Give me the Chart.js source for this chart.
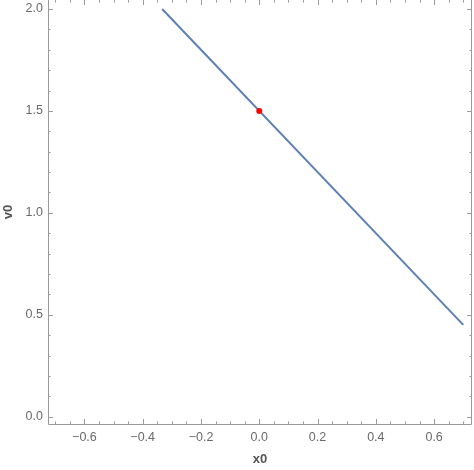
<!DOCTYPE html>
<html>
<head>
<meta charset="utf-8">
<script src="https://cdn.jsdelivr.net/npm/chart.js@4/dist/chart.umd.min.js"></script>
<style>
  html, body { margin: 0; padding: 0; background: #fff; }
  #wrap { width: 474px; height: 470px; }
</style>
</head>
<body>
<div id="wrap"><canvas id="chart"></canvas></div>
<script>
// line v0 vs x0 and the marked point
const lineX = [-0.3333, 0.7];
const lineY = [2.0, 0.45];
const pointX = [0.0];
const pointY = [1.5];

// tick labels
const xTicks = [-0.6, -0.4, -0.2, 0.0, 0.2, 0.4, 0.6];
const yTicks = [0.0, 0.5, 1.0, 1.5, 2.0];

const frameColor = '#9a9a9a';
const labelColor = '#6a6a6a';

const fmt = v => v.toFixed(1).replace('-', '\u2212');

// frame with inward ticks, like a Mathematica plot
const framePlugin = {
    id: 'frame',
    afterDatasetsDraw(chart) {
        const { ctx, chartArea: a, scales } = chart;
        const xs = scales.x, ys = scales.y;
        ctx.save();
        ctx.strokeStyle = frameColor;
        ctx.lineWidth = 1;
        ctx.beginPath();
        ctx.moveTo(a.left + 0.5, a.top);
        ctx.lineTo(a.left + 0.5, a.bottom + 0.5);
        ctx.lineTo(a.right - 0.5, a.bottom + 0.5);
        ctx.lineTo(a.right - 0.5, a.top);
        ctx.stroke();

        ctx.beginPath();
        for (let i = -15; i <= 15; i++) {
            const v = i * 0.05;
            if (v < xs.min || v > xs.max) continue;
            const px = Math.round(xs.getPixelForValue(v)) + 0.5;
            const len = (i % 4 === 0) ? 5 : 2.5;
            ctx.moveTo(px, a.bottom);
            ctx.lineTo(px, a.bottom - len);
            ctx.moveTo(px, a.top);
            ctx.lineTo(px, a.top + len);
        }
        for (let i = 0; i <= 21; i++) {
            const v = i * 0.1;
            if (v < ys.min || v > ys.max) continue;
            const py = Math.round(ys.getPixelForValue(v)) + 0.5;
            const len = (i % 5 === 0) ? 5 : 2.5;
            ctx.moveTo(a.left, py);
            ctx.lineTo(a.left + len, py);
            ctx.moveTo(a.right, py);
            ctx.lineTo(a.right - len, py);
        }
        ctx.stroke();
        ctx.restore();
    }
};

new Chart(document.getElementById('chart'), {
    type: 'scatter',
    data: {
        datasets: [
            {
                label: 'point',
                data: pointX.map((x, i) => ({ x: x, y: pointY[i] })),
                pointRadius: 3,
                pointBackgroundColor: '#ff0000',
                pointBorderWidth: 0,
                order: 0
            },
            {
                label: 'line',
                data: lineX.map((x, i) => ({ x: x, y: lineY[i] })),
                showLine: true,
                borderColor: '#5e81b5',
                borderWidth: 2,
                pointRadius: 0,
                order: 1
            }
        ]
    },
    options: {
        responsive: true,
        maintainAspectRatio: false,
        animation: false,
        layout: { autoPadding: false, padding: { top: 0, right: 2, bottom: 0, left: 0 } },
        plugins: {
            legend: { display: false },
            tooltip: { enabled: false }
        },
        scales: {
            x: {
                type: 'linear',
                min: -0.725,
                max: 0.73,
                grid: { display: false, drawTicks: false },
                border: { display: false },
                afterBuildTicks: s => { s.ticks = xTicks.map(v => ({ value: v })); },
                afterFit: s => { s.height = 46; s.paddingLeft = 0; s.paddingRight = 0; },
                ticks: {
                    padding: 6,
                    color: labelColor,
                    font: { family: 'Liberation Sans, Arial, sans-serif', size: 12.5 },
                    callback: v => fmt(v),
                    maxRotation: 0
                },
                title: {
                    display: true,
                    text: 'x0',
                    color: '#555',
                    font: { family: 'Liberation Sans, Arial, sans-serif', size: 13, weight: 'bold' },
                    padding: { top: 0, bottom: 3 }
                }
            },
            y: {
                type: 'linear',
                min: -0.036,
                max: 2.044,
                grid: { display: false, drawTicks: false },
                border: { display: false },
                afterBuildTicks: s => { s.ticks = yTicks.map(v => ({ value: v })); },
                afterFit: s => { s.width = 48; s.paddingTop = 0; s.paddingBottom = 0; },
                ticks: {
                    padding: 5,
                    color: labelColor,
                    font: { family: 'Liberation Sans, Arial, sans-serif', size: 12.5 },
                    callback: v => fmt(v)
                },
                title: {
                    display: true,
                    text: 'v0',
                    color: '#555',
                    font: { family: 'Liberation Sans, Arial, sans-serif', size: 13, weight: 'bold' },
                    padding: { top: 1, bottom: 0 }
                }
            }
        }
    },
    plugins: [framePlugin]
});
</script>
</body>
</html>
